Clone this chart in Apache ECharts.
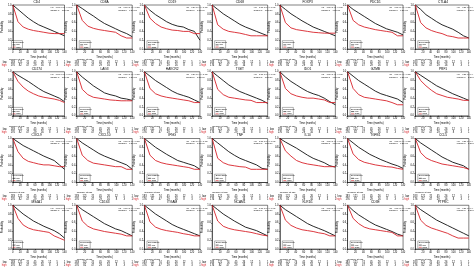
<!DOCTYPE html>
<html><head><meta charset="utf-8">
<script src="https://cdn.jsdelivr.net/npm/echarts@6/dist/echarts.min.js"></script>
<style>html,body{margin:0;padding:0;background:#fff}#c{width:474px;height:267px}</style></head>
<body><div id="c"></div><script>
const titles=['CD4','CD8A','CD19','CD68','FOXP3','PDCD1','CTLA4',
'CD274','LAG3','HAVCR2','TIGIT','IDO1','GZMB','PRF1',
'CXCL9','CXCL10','IFNG','TNF','IL10','TGFB1','CCL5',
'MS4A1','CD163','ITGAM','NCAM1','KLRD1','CD3E','PTPRC'];
const times=[0,14,28,42,56,70,84,98,112,126,140];
const xTicks=[0,20,40,60,80,100,120,140];
const yTicks=[0,0.2,0.4,0.6,0.8,1];
const lowCurves=[
[1,.9,.8,.7,.62,.55,.5,.45,.4,.35,.3],
[1,.92,.83,.75,.66,.58,.52,.46,.4,.35,.28],
[1,.88,.78,.7,.62,.56,.52,.5,.44,.4,.2],
[1,.9,.8,.72,.64,.56,.5,.45,.4,.35,.3],
[1,.9,.8,.72,.64,.57,.5,.45,.4,.35,.3],
[1,.9,.82,.74,.66,.58,.52,.46,.42,.38,.32],
[1,.9,.78,.7,.62,.55,.5,.45,.38,.3,.25],
[1,.92,.85,.78,.7,.62,.55,.5,.45,.4,.32],
[1,.88,.78,.68,.6,.52,.48,.45,.4,.38,.35],
[1,.9,.8,.72,.64,.56,.5,.46,.42,.36,.3],
[1,.9,.8,.7,.62,.55,.5,.45,.4,.35,.28],
[1,.88,.78,.7,.62,.55,.5,.46,.4,.32,.25],
[1,.9,.8,.72,.64,.56,.5,.46,.42,.38,.3],
[1,.92,.84,.76,.68,.62,.56,.5,.45,.4,.35],
[1,.92,.84,.78,.72,.66,.6,.55,.5,.4,.3],
[1,.9,.82,.74,.66,.6,.55,.5,.45,.4,.3],
[1,.9,.8,.72,.64,.57,.5,.46,.42,.38,.3],
[1,.9,.8,.7,.62,.55,.5,.45,.4,.32,.3],
[1,.92,.85,.78,.7,.62,.55,.5,.45,.38,.35],
[1,.9,.8,.72,.64,.58,.52,.47,.42,.38,.32],
[1,.9,.82,.74,.66,.58,.52,.46,.42,.38,.3],
[1,.9,.8,.72,.64,.58,.52,.47,.42,.35,.25],
[1,.9,.82,.74,.66,.58,.52,.46,.42,.36,.3],
[1,.9,.8,.72,.64,.56,.5,.45,.4,.35,.3],
[1,.9,.8,.72,.64,.57,.5,.46,.42,.36,.3],
[1,.9,.82,.74,.66,.58,.52,.47,.42,.36,.3],
[1,.88,.78,.7,.62,.55,.5,.45,.4,.34,.3],
[1,.9,.82,.74,.66,.6,.54,.48,.42,.36,.3]];
const highCurves=[
[1,.62,.5,.45,.42,.4,.38,.36,.35,.35,.35],
[1,.65,.52,.47,.44,.42,.4,.38,.3,.25,.25],
[1,.7,.58,.5,.46,.43,.42,.4,.4,.35,.35],
[1,.55,.45,.4,.38,.36,.33,.3,.3,.3,.3],
[1,.6,.48,.44,.42,.4,.38,.37,.36,.36,.36],
[1,.65,.55,.5,.47,.44,.42,.4,.38,.3,.3],
[1,.6,.48,.42,.38,.35,.3,.28,.25,.25,.25],
[1,.78,.65,.56,.5,.45,.42,.4,.38,.35,.3],
[1,.6,.48,.42,.4,.38,.36,.35,.34,.34,.34],
[1,.62,.5,.45,.42,.4,.38,.36,.34,.3,.3],
[1,.6,.48,.42,.4,.38,.36,.35,.3,.3,.3],
[1,.62,.5,.45,.42,.4,.4,.38,.36,.3,.3],
[1,.62,.48,.42,.4,.38,.36,.34,.3,.25,.25],
[1,.8,.68,.58,.5,.46,.42,.4,.38,.35,.35],
[1,.7,.55,.48,.45,.42,.4,.4,.38,.36,.36],
[1,.62,.5,.44,.42,.4,.38,.36,.36,.3,.3],
[1,.62,.5,.45,.42,.4,.38,.36,.34,.3,.3],
[1,.55,.45,.4,.38,.36,.35,.3,.3,.3,.3],
[1,.72,.6,.5,.45,.42,.4,.38,.36,.36,.36],
[1,.65,.52,.46,.43,.4,.38,.36,.35,.32,.3],
[1,.68,.56,.5,.46,.42,.4,.38,.36,.34,.3],
[1,.7,.55,.48,.44,.42,.4,.38,.3,.25,.2],
[1,.64,.52,.46,.43,.4,.38,.36,.34,.3,.3],
[1,.62,.5,.45,.42,.4,.38,.35,.33,.3,.3],
[1,.64,.52,.47,.44,.42,.4,.38,.35,.32,.3],
[1,.66,.54,.48,.44,.42,.4,.37,.35,.3,.3],
[1,.7,.58,.5,.46,.44,.42,.4,.38,.3,.3],
[1,.66,.54,.48,.44,.4,.36,.3,.25,.25,.25]];
const riskLow=[183,121,74,45,26,12,5,1];
const riskHigh=[176,82,47,29,16,8,3,1];
const hrLine='HR = 0.56 (0.44 \u2212 0.71)';
const pLine='logrank P = 1.5e\u221206';

const FONT='Liberation Sans, Arial, sans-serif';
const chart=echarts.init(document.getElementById('c'),null,{renderer:'canvas'});
const colW=474/7,rowH=267/4;
const grid=[],xAxis=[],yAxis=[],series=[],title=[],graphic=[];
const RED='#d8232a';
for(let k=0;k<28;k++){
  const c=k%7,r=Math.floor(k/7);
  const x0=c*colW,y0=r*rowH;
  const gl=x0+9,gt=y0+5,gw=55.5,gh=44;
  grid.push({left:gl,top:gt,width:gw,height:gh,show:true,borderColor:'#000',borderWidth:0.5,backgroundColor:'transparent'});
  const base={gridIndex:k,type:'value',min:0,max:140,interval:20,splitLine:{show:false}};
  xAxis.push(Object.assign({},base,{name:'Time (months)',nameLocation:'middle',nameGap:6.3,
    nameTextStyle:{fontSize:2.6,color:'#000',fontFamily:FONT},
    axisLine:{lineStyle:{color:'#000',width:0.5}},axisTick:{length:1,lineStyle:{width:0.5,color:'#000'}},
    axisLabel:{fontSize:2.6,margin:1.5,color:'#000',fontFamily:FONT}}));
  xAxis.push(Object.assign({},base,{position:'bottom',offset:12,axisLine:{show:false},axisTick:{show:false},
    axisLabel:{fontSize:2.6,margin:0,color:'#000',fontFamily:FONT,formatter:v=>String(riskLow[xTicks.indexOf(v)])},
    name:'low',nameLocation:'start',nameGap:3,nameTextStyle:{fontSize:2.6,color:'#000',verticalAlign:'top',fontFamily:FONT}}));
  xAxis.push(Object.assign({},base,{position:'bottom',offset:15,axisLine:{show:false},axisTick:{show:false},
    axisLabel:{fontSize:2.6,margin:0,color:'#000',fontFamily:FONT,formatter:v=>String(riskHigh[xTicks.indexOf(v)])},
    name:'high',nameLocation:'start',nameGap:3,nameTextStyle:{fontSize:2.6,color:RED,verticalAlign:'top',fontFamily:FONT}}));
  yAxis.push({gridIndex:k,type:'value',min:0,max:1,interval:0.2,splitLine:{show:false},
    name:'Probability',nameLocation:'middle',nameGap:6,nameTextStyle:{fontSize:2.6,color:'#000',fontFamily:FONT},
    axisLine:{show:true,lineStyle:{color:'#000',width:0.5}},axisTick:{show:true,length:1,lineStyle:{width:0.5,color:'#000'}},
    axisLabel:{fontSize:2.6,margin:1.3,color:'#000',fontFamily:FONT,formatter:v=>v.toFixed(1)}});
  series.push({type:'line',name:'low',xAxisIndex:k*3,yAxisIndex:k,symbol:'none',
    lineStyle:{color:'#111',width:0.9},itemStyle:{color:'#111'},data:times.map((t,i)=>[t,lowCurves[k][i]])});
  series.push({type:'line',name:'high',xAxisIndex:k*3,yAxisIndex:k,symbol:'none',
    lineStyle:{color:RED,width:0.9},itemStyle:{color:RED},data:times.map((t,i)=>[t,highCurves[k][i]])});
  title.push({text:titles[k],left:gl+gw/2,top:y0+0.4,textAlign:'center',padding:0,
    textStyle:{fontSize:3.2,fontWeight:'normal',color:'#000',fontFamily:FONT}});
  graphic.push({type:'text',left:gl+gw-14,top:gt+1.5,style:{text:hrLine+'\n'+pLine,fontSize:2.1,lineHeight:2.6,fill:'#000',font:'2.1px '+FONT}});
  graphic.push({type:'group',left:gl+1,top:gt+gh-8.5,children:[
    {type:'rect',shape:{x:0,y:0,width:11,height:7.5},style:{fill:'#fff',stroke:'#000',lineWidth:0.3}},
    {type:'text',x:1,y:0.6,style:{text:'Expression',font:'2.3px '+FONT,fill:'#000'}},
    {type:'line',shape:{x1:1,y1:4.2,x2:4,y2:4.2},style:{stroke:'#000',lineWidth:0.6}},
    {type:'text',x:4.8,y:3.1,style:{text:'low',font:'2.3px '+FONT,fill:'#000'}},
    {type:'line',shape:{x1:1,y1:6.4,x2:4,y2:6.4},style:{stroke:RED,lineWidth:0.6}},
    {type:'text',x:4.8,y:5.3,style:{text:'high',font:'2.3px '+FONT,fill:'#000'}}
  ]});
  graphic.push({type:'text',left:gl,top:y0+58.2,style:{text:'Number at risk',font:'2.4px '+FONT,fill:'#000'}});
}
chart.setOption({animation:false,backgroundColor:'#fff',title,grid,xAxis,yAxis,series,graphic});
</script></body></html>
